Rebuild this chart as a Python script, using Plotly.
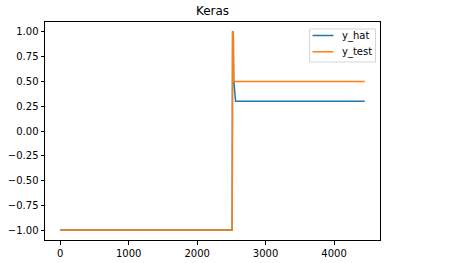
import plotly.graph_objects as go

# Step-series breakpoints
x_hat = [0, 2512, 2518, 2528, 2534, 2562, 4449]
y_hat = [-1.0, -1.0, 1.0, 1.0, 0.52, 0.30, 0.30]
x_test = [0, 2512, 2518, 2528, 2534, 4449]
y_test = [-1.0, -1.0, 1.0, 1.0, 0.50, 0.50]
series_names = ["y_hat", "y_test"]
series_colors = ["#1f77b4", "#ff7f0e"]

x_ticks = [0, 1000, 2000, 3000, 4000]
y_ticks = [1.0, 0.75, 0.5, 0.25, 0.0, -0.25, -0.5, -0.75, -1.0]
y_labels = ["1.00", "0.75", "0.50", "0.25", "0.00", "\u22120.25", "\u22120.50", "\u22120.75", "\u22121.00"]

# plot area in pixels
L, R, T, B = 45, 380, 22, 240
W, H = 454, 263
px = lambda v: (v - L) / (R - L)
py = lambda v: (B - v) / (B - T)

fig = go.Figure()
for xs, ys, name, color in [(x_hat, y_hat, series_names[0], series_colors[0]),
                            (x_test, y_test, series_names[1], series_colors[1])]:
    fig.add_trace(go.Scatter(x=xs, y=ys, mode="lines", name=name, showlegend=False,
                             line=dict(color=color, width=1.5)))

axis_common = dict(showgrid=False, zeroline=False, showline=True, linecolor="black",
                   linewidth=1, mirror=True, ticks="outside", ticklen=3.5,
                   tickcolor="black", tickwidth=1, automargin=False,
                   tickfont=dict(family="DejaVu Sans", size=10, color="black"))

# custom matplotlib-like legend
shapes = [dict(type="rect", xref="paper", yref="paper",
               x0=px(309.5), x1=px(375.5), y0=py(62), y1=py(29),
               line=dict(color="#d6d6d6", width=1), fillcolor="rgba(255,255,255,0.8)", layer="above")]
annotations = []
for i, (name, color) in enumerate(zip(series_names, series_colors)):
    yy = py(35.5 + i * 16.3)
    shapes.append(dict(type="line", xref="paper", yref="paper", x0=px(312.5), x1=px(333.5),
                       y0=yy, y1=yy, line=dict(color=color, width=1.5), layer="above"))
    annotations.append(dict(text=name, xref="paper", yref="paper", x=px(340), y=yy,
                            xanchor="left", yanchor="middle", showarrow=False,
                            font=dict(family="DejaVu Sans", size=10, color="black")))

fig.update_layout(
    width=W, height=H,
    margin=dict(l=L, r=W - R, t=T, b=H - B, autoexpand=False),
    paper_bgcolor="white", plot_bgcolor="white",
    title=dict(text="Keras", x=(L + R) / 2 / W, xanchor="center", y=1 - 11 / H, yanchor="middle",
               font=dict(family="DejaVu Sans", size=12, color="black")),
    xaxis=dict(range=[-223, 4672], tickvals=x_ticks, **axis_common),
    yaxis=dict(range=[-1.1, 1.1], tickvals=y_ticks, ticktext=y_labels, **axis_common),
    shapes=shapes, annotations=annotations,
    showlegend=False,
)

fig.write_html("out.html")
